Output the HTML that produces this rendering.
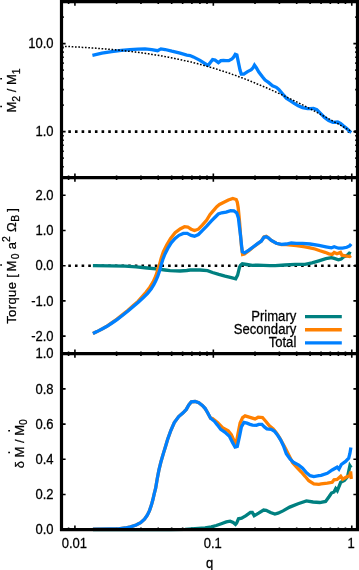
<!DOCTYPE html>
<html><head><meta charset="utf-8"><style>html,body{margin:0;padding:0;background:#fff;}svg{display:block;}</style></head><body>
<svg width="359" height="570" viewBox="0 0 359 570">
<rect width="100%" height="100%" fill="#fff"/>
<line x1="68.3" y1="131.66" x2="357.5" y2="131.66" stroke="#000" stroke-width="2.6" stroke-dasharray="2.6 4.052"/>
<line x1="68.3" y1="265.70" x2="357.5" y2="265.70" stroke="#000" stroke-width="2.6" stroke-dasharray="2.6 4.052"/>
<path d="M74.92 1.60L74.92 5.70M213.34 1.60L213.34 5.70M351.77 1.60L351.77 5.70M68.58 1.60L68.58 3.90M116.59 1.60L116.59 3.90M140.96 1.60L140.96 3.90M158.26 1.60L158.26 3.90M171.67 1.60L171.67 3.90M182.63 1.60L182.63 3.90M191.90 1.60L191.90 3.90M199.93 1.60L199.93 3.90M207.01 1.60L207.01 3.90M255.01 1.60L255.01 3.90M279.39 1.60L279.39 3.90M296.68 1.60L296.68 3.90M310.10 1.60L310.10 3.90M321.06 1.60L321.06 3.90M330.33 1.60L330.33 3.90M338.36 1.60L338.36 3.90M345.44 1.60L345.44 3.90M74.92 173.60L74.92 181.80M213.34 173.60L213.34 181.80M351.77 173.60L351.77 181.80M68.58 175.40L68.58 180.00M116.59 175.40L116.59 180.00M140.96 175.40L140.96 180.00M158.26 175.40L158.26 180.00M171.67 175.40L171.67 180.00M182.63 175.40L182.63 180.00M191.90 175.40L191.90 180.00M199.93 175.40L199.93 180.00M207.01 175.40L207.01 180.00M255.01 175.40L255.01 180.00M279.39 175.40L279.39 180.00M296.68 175.40L296.68 180.00M310.10 175.40L310.10 180.00M321.06 175.40L321.06 180.00M330.33 175.40L330.33 180.00M338.36 175.40L338.36 180.00M345.44 175.40L345.44 180.00M74.92 349.60L74.92 357.80M213.34 349.60L213.34 357.80M351.77 349.60L351.77 357.80M68.58 351.40L68.58 356.00M116.59 351.40L116.59 356.00M140.96 351.40L140.96 356.00M158.26 351.40L158.26 356.00M171.67 351.40L171.67 356.00M182.63 351.40L182.63 356.00M191.90 351.40L191.90 356.00M199.93 351.40L199.93 356.00M207.01 351.40L207.01 356.00M255.01 351.40L255.01 356.00M279.39 351.40L279.39 356.00M296.68 351.40L296.68 356.00M310.10 351.40L310.10 356.00M321.06 351.40L321.06 356.00M330.33 351.40L330.33 356.00M338.36 351.40L338.36 356.00M345.44 351.40L345.44 356.00M74.92 525.60L74.92 529.70M213.34 525.60L213.34 529.70M351.77 525.60L351.77 529.70M68.58 527.40L68.58 529.70M116.59 527.40L116.59 529.70M140.96 527.40L140.96 529.70M158.26 527.40L158.26 529.70M171.67 527.40L171.67 529.70M182.63 527.40L182.63 529.70M191.90 527.40L191.90 529.70M199.93 527.40L199.93 529.70M207.01 527.40L207.01 529.70M255.01 527.40L255.01 529.70M279.39 527.40L279.39 529.70M296.68 527.40L296.68 529.70M310.10 527.40L310.10 529.70M321.06 527.40L321.06 529.70M330.33 527.40L330.33 529.70M338.36 527.40L338.36 529.70M345.44 527.40L345.44 529.70M61.50 131.66L65.60 131.66M357.50 131.66L353.40 131.66M61.50 43.61L65.60 43.61M357.50 43.61L353.40 43.61M61.50 166.70L63.80 166.70M357.50 166.70L355.20 166.70M61.50 158.17L63.80 158.17M357.50 158.17L355.20 158.17M61.50 151.19L63.80 151.19M357.50 151.19L355.20 151.19M61.50 145.30L63.80 145.30M357.50 145.30L355.20 145.30M61.50 140.19L63.80 140.19M357.50 140.19L355.20 140.19M61.50 135.69L63.80 135.69M357.50 135.69L355.20 135.69M61.50 105.15L63.80 105.15M357.50 105.15L355.20 105.15M61.50 89.65L63.80 89.65M357.50 89.65L355.20 89.65M61.50 78.65L63.80 78.65M357.50 78.65L355.20 78.65M61.50 70.12L63.80 70.12M357.50 70.12L355.20 70.12M61.50 63.14L63.80 63.14M357.50 63.14L355.20 63.14M61.50 57.25L63.80 57.25M357.50 57.25L355.20 57.25M61.50 52.14L63.80 52.14M357.50 52.14L355.20 52.14M61.50 47.64L63.80 47.64M357.50 47.64L355.20 47.64M61.50 17.10L63.80 17.10M357.50 17.10L355.20 17.10M61.50 336.10L65.60 336.10M357.50 336.10L353.40 336.10M61.50 300.90L65.60 300.90M357.50 300.90L353.40 300.90M61.50 265.70L65.60 265.70M357.50 265.70L353.40 265.70M61.50 230.50L65.60 230.50M357.50 230.50L353.40 230.50M61.50 195.30L65.60 195.30M357.50 195.30L353.40 195.30M61.50 494.50L65.60 494.50M357.50 494.50L353.40 494.50M61.50 459.30L65.60 459.30M357.50 459.30L353.40 459.30M61.50 424.10L65.60 424.10M357.50 424.10L353.40 424.10M61.50 388.90L65.60 388.90M357.50 388.90L353.40 388.90" stroke="#000" stroke-width="1.6" fill="none"/>
<polyline points="92.4,55.4 101.9,53.2 111.7,51.6 121.4,50.4 129.8,49.7 138.0,49.1 145.0,48.9 151.7,49.7 157.6,50.7 160.9,48.9 165.1,49.5 171.8,51.2 180.1,53.1 186.8,55.1 190.0,55.5 193.3,56.9 200.0,60.4 206.7,64.7 208.4,65.1 212.6,59.6 215.1,60.1 218.4,62.6 220.9,60.6 223.4,60.4 225.9,60.7 228.8,60.7 231.9,59.0 233.8,56.9 235.3,54.4 236.9,55.0 238.2,61.3 240.0,70.1 241.3,74.1 243.8,74.1 247.6,71.6 251.3,69.7 253.2,67.6 254.5,65.1 256.3,67.6 258.8,72.0 262.6,77.0 265.1,80.1 268.5,82.4 272.5,85.7 276.3,87.3 278.8,89.4 282.5,93.8 286.3,98.2 290.1,100.7 293.8,103.2 298.2,105.7 302.6,107.6 307.6,108.6 310.0,108.6 313.4,108.4 316.8,109.7 320.3,113.2 324.5,117.4 328.7,120.6 332.9,122.3 337.7,122.0 340.5,123.4 343.3,125.8 346.8,128.6 349.6,131.3 351.3,132.5" fill="none" stroke="#0080ff" stroke-width="3.3" stroke-linejoin="miter" stroke-miterlimit="6" stroke-linecap="butt"/>
<polyline points="61.5,46.3 62.7,46.3 63.9,46.4 65.1,46.4 66.3,46.5 67.5,46.5 68.6,46.6 69.8,46.6 71.0,46.7 72.2,46.8 73.4,46.8 74.6,46.9 75.8,47.0 77.0,47.0 78.2,47.1 79.4,47.1 80.5,47.2 81.7,47.3 82.9,47.4 84.1,47.4 85.3,47.5 86.5,47.6 87.7,47.6 88.9,47.7 90.1,47.8 91.3,47.9 92.5,48.0 93.6,48.0 94.8,48.1 96.0,48.2 97.2,48.3 98.4,48.4 99.6,48.5 100.8,48.6 102.0,48.7 103.2,48.8 104.4,48.9 105.5,48.9 106.7,49.0 107.9,49.1 109.1,49.3 110.3,49.4 111.5,49.5 112.7,49.6 113.9,49.7 115.1,49.8 116.3,49.9 117.5,50.0 118.6,50.1 119.8,50.3 121.0,50.4 122.2,50.5 123.4,50.6 124.6,50.8 125.8,50.9 127.0,51.0 128.2,51.2 129.4,51.3 130.5,51.4 131.7,51.6 132.9,51.7 134.1,51.9 135.3,52.0 136.5,52.2 137.7,52.3 138.9,52.5 140.1,52.6 141.3,52.8 142.5,53.0 143.6,53.1 144.8,53.3 146.0,53.5 147.2,53.6 148.4,53.8 149.6,54.0 150.8,54.2 152.0,54.4 153.2,54.5 154.4,54.7 155.5,54.9 156.7,55.1 157.9,55.3 159.1,55.5 160.3,55.7 161.5,55.9 162.7,56.1 163.9,56.3 165.1,56.6 166.3,56.8 167.5,57.0 168.6,57.2 169.8,57.5 171.0,57.7 172.2,57.9 173.4,58.2 174.6,58.4 175.8,58.7 177.0,58.9 178.2,59.2 179.4,59.4 180.6,59.7 181.7,59.9 182.9,60.2 184.1,60.5 185.3,60.7 186.5,61.0 187.7,61.3 188.9,61.6 190.1,61.8 191.3,62.1 192.5,62.4 193.6,62.7 194.8,63.0 196.0,63.3 197.2,63.6 198.4,63.9 199.6,64.3 200.8,64.6 202.0,64.9 203.2,65.2 204.4,65.6 205.6,65.9 206.7,66.2 207.9,66.6 209.1,66.9 210.3,67.3 211.5,67.6 212.7,68.0 213.9,68.3 215.1,68.7 216.3,69.0 217.5,69.4 218.6,69.8 219.8,70.2 221.0,70.5 222.2,70.9 223.4,71.3 224.6,71.7 225.8,72.1 227.0,72.5 228.2,72.9 229.4,73.3 230.6,73.7 231.7,74.1 232.9,74.6 234.1,75.0 235.3,75.4 236.5,75.8 237.7,76.3 238.9,76.7 240.1,77.2 241.3,77.6 242.5,78.0 243.6,78.5 244.8,78.9 246.0,79.4 247.2,79.9 248.4,80.3 249.6,80.8 250.8,81.3 252.0,81.8 253.2,82.2 254.4,82.7 255.6,83.2 256.7,83.7 257.9,84.2 259.1,84.7 260.3,85.2 261.5,85.7 262.7,86.2 263.9,86.7 265.1,87.2 266.3,87.7 267.5,88.3 268.6,88.8 269.8,89.3 271.0,89.8 272.2,90.4 273.4,90.9 274.6,91.4 275.8,92.0 277.0,92.5 278.2,93.1 279.4,93.6 280.6,94.2 281.7,94.7 282.9,95.3 284.1,95.9 285.3,96.4 286.5,97.0 287.7,97.6 288.9,98.1 290.1,98.7 291.3,99.3 292.5,99.9 293.6,100.5 294.8,101.1 296.0,101.6 297.2,102.2 298.4,102.8 299.6,103.4 300.8,104.0 302.0,104.6 303.2,105.2 304.4,105.8 305.6,106.4 306.7,107.1 307.9,107.7 309.1,108.3 310.3,108.9 311.5,109.5 312.7,110.2 313.9,110.8 315.1,111.4 316.3,112.0 317.5,112.7 318.6,113.3 319.8,113.9 321.0,114.6 322.2,115.2 323.4,115.9 324.6,116.5 325.8,117.1 327.0,117.8 328.2,118.4 329.4,119.1 330.6,119.8 331.7,120.4 332.9,121.1 334.1,121.7 335.3,122.4 336.5,123.0 337.7,123.7 338.9,124.4 340.1,125.0 341.3,125.7 342.5,126.4 343.6,127.0 344.8,127.7 346.0,128.4 347.2,129.1 348.4,129.7 349.6,130.4 350.8,131.1 351.8,131.7" fill="none" stroke="#000" stroke-width="1.5" stroke-dasharray="1.65 1.68" stroke-dashoffset="-0.2"/>
<polyline points="92.9,265.7 110.0,265.9 125.0,266.1 136.1,266.9 147.3,268.0 158.4,269.1 165.0,270.0 170.1,270.6 180.1,271.0 186.8,270.5 190.1,270.0 200.0,270.0 207.5,270.7 212.5,272.5 218.8,274.4 225.1,276.1 231.3,277.6 235.7,278.8 237.6,275.1 239.5,267.3 240.5,265.2 242.3,263.8 246.7,264.5 252.3,265.3 257.9,265.2 263.4,265.4 270.0,265.6 275.1,265.6 285.1,265.0 295.1,264.4 305.0,264.3 312.0,262.9 318.9,260.8 325.9,258.7 331.5,257.6 334.2,258.4 338.4,259.8 341.2,259.0 344.0,256.6 346.8,255.6 349.3,253.1 350.9,253.8" fill="none" stroke="#008080" stroke-width="3.3" stroke-linejoin="miter" stroke-miterlimit="6" stroke-linecap="butt"/>
<polyline points="92.9,333.6 97.0,331.6 102.0,329.0 107.0,326.2 112.0,322.6 117.0,319.1 122.0,315.1 128.0,310.2 133.0,305.8 138.0,301.4 142.0,296.9 146.2,292.1 149.7,287.4 153.1,282.0 155.6,276.4 157.0,272.2 157.9,268.7 159.5,264.6 161.1,258.4 163.4,251.7 166.7,245.1 170.6,238.4 175.1,232.8 180.1,228.9 184.5,226.7 187.8,227.0 191.1,229.2 194.5,230.6 198.4,229.2 202.3,225.1 206.7,220.1 210.1,214.5 213.4,210.6 216.8,206.7 219.5,204.5 223.9,202.3 228.4,200.0 232.8,198.4 236.2,199.5 237.3,202.3 238.2,207.8 239.0,215.6 239.7,223.4 240.6,236.5 241.5,246.5 242.6,254.5 244.5,254.0 248.9,250.6 253.4,247.0 257.9,243.6 261.2,241.2 264.0,236.8 266.2,236.2 268.0,237.6 271.3,240.5 276.3,243.3 281.3,244.6 286.3,244.6 291.3,245.2 296.3,245.7 300.0,246.2 305.0,246.9 310.0,247.8 315.0,249.0 320.0,250.8 325.0,252.3 329.0,253.8 332.2,254.5 334.2,252.4 337.0,253.8 340.5,252.4 341.9,255.2 345.4,255.9 349.6,256.6 351.0,255.6" fill="none" stroke="#ff8000" stroke-width="3.3" stroke-linejoin="miter" stroke-miterlimit="6" stroke-linecap="butt"/>
<polyline points="92.9,333.6 97.0,331.6 102.0,329.0 107.0,326.3 112.0,323.0 117.0,319.6 122.0,315.8 128.0,311.0 133.0,306.8 138.0,302.5 143.4,297.5 147.6,293.4 151.1,289.0 153.8,284.7 155.9,280.5 157.7,276.4 159.1,272.2 160.2,268.7 161.1,265.1 162.8,259.5 165.0,254.0 167.8,248.4 171.2,242.8 175.1,238.4 179.0,235.3 183.3,233.4 187.2,233.4 191.1,235.4 194.5,236.2 198.4,234.5 202.3,230.6 206.7,226.2 211.2,221.2 215.3,217.0 218.3,214.0 221.7,212.8 226.1,212.1 230.6,210.6 233.9,210.9 236.7,212.8 238.4,217.9 239.3,225.7 240.6,236.1 241.5,245.1 242.3,251.7 244.5,252.9 248.9,250.1 253.4,246.7 257.9,243.4 261.2,241.2 264.0,237.3 266.2,236.7 268.0,237.6 271.3,240.5 276.3,243.3 281.3,244.3 286.3,244.0 291.3,243.0 296.3,243.3 302.6,243.4 310.0,244.0 318.9,245.4 325.9,246.8 331.5,247.8 334.2,246.8 338.4,248.2 342.6,248.2 346.8,247.3 349.6,245.9 351.2,244.0" fill="none" stroke="#0080ff" stroke-width="3.3" stroke-linejoin="miter" stroke-miterlimit="6" stroke-linecap="butt"/>
<polyline points="92.9,529.7 170.0,529.7 185.0,529.4 195.0,528.6 205.0,527.8 211.3,526.9 216.3,525.5 221.3,523.7 226.3,521.9 230.1,521.2 233.2,522.5 235.5,524.4 236.6,523.2 238.5,518.8 241.6,518.2 246.0,515.7 250.4,512.5 252.3,512.5 254.2,515.7 258.6,513.2 263.6,510.0 266.1,510.3 270.5,512.5 274.9,514.0 278.0,513.2 283.0,510.9 289.7,507.1 298.1,503.7 306.4,500.9 313.1,502.0 319.8,502.5 325.6,501.4 329.0,496.7 331.5,493.0 334.0,492.0 335.7,488.7 337.3,490.8 340.7,482.3 344.4,480.4 347.5,476.8 348.7,471.3 349.9,465.7 351.2,467.6" fill="none" stroke="#008080" stroke-width="3.3" stroke-linejoin="miter" stroke-miterlimit="6" stroke-linecap="butt"/>
<polyline points="92.9,529.1 110.0,529.0 118.4,528.8 125.0,528.0 130.6,526.8 136.1,525.0 140.6,522.7 144.5,519.2 147.3,515.1 149.5,510.6 151.4,505.1 152.9,499.5 154.2,493.9 155.6,488.5 157.2,479.0 158.9,470.1 161.1,461.2 163.4,453.4 165.6,446.2 167.6,439.5 170.8,430.5 174.3,422.6 178.7,416.6 183.1,412.8 186.3,409.4 188.8,405.0 191.3,401.9 195.1,401.5 198.8,402.8 202.6,405.7 205.2,408.6 207.5,412.5 210.6,418.2 212.5,418.5 217.5,422.5 222.5,427.6 228.2,430.7 231.3,434.5 233.8,440.1 236.1,443.9 238.2,432.6 240.1,423.0 242.6,417.6 245.1,415.8 250.0,417.3 255.0,418.9 258.2,417.2 262.5,417.5 265.7,421.3 269.4,425.7 273.2,428.8 276.3,432.6 279.5,437.6 282.5,443.0 285.5,448.5 287.5,452.5 292.5,462.6 297.5,468.2 301.3,472.0 305.1,476.3 308.8,480.7 313.8,483.9 318.9,484.3 321.1,483.9 327.3,483.1 332.2,482.3 334.0,479.8 337.1,479.5 340.7,476.2 342.6,479.2 346.9,476.8 349.9,475.5 350.6,471.5 351.3,479.0" fill="none" stroke="#ff8000" stroke-width="3.3" stroke-linejoin="miter" stroke-miterlimit="6" stroke-linecap="butt"/>
<polyline points="92.9,529.1 110.0,529.0 118.4,528.8 125.0,528.0 130.6,526.8 136.1,525.0 140.6,522.7 144.5,519.2 147.3,515.1 149.5,510.6 151.4,505.1 152.9,499.5 154.2,493.9 155.6,488.5 157.2,479.0 158.9,470.1 161.1,461.2 163.4,453.4 165.6,446.2 167.6,439.5 170.8,430.5 174.3,422.6 178.7,416.6 183.1,412.8 186.3,409.4 188.8,405.0 191.3,401.9 195.1,401.5 198.8,402.8 202.6,405.7 205.2,408.6 207.5,412.5 210.6,418.2 214.4,421.3 217.5,425.1 220.7,429.4 225.1,432.3 229.4,436.3 232.6,442.6 235.1,447.0 237.3,446.4 239.5,436.3 241.4,426.9 243.9,422.5 247.0,423.2 250.0,424.4 252.5,425.1 256.3,425.3 258.8,424.4 261.9,424.4 264.4,426.9 266.9,428.8 271.3,429.4 274.5,431.3 277.6,435.1 280.7,440.1 283.5,446.0 286.3,453.8 290.0,458.8 293.8,462.6 298.8,465.1 302.6,468.2 306.3,472.6 310.1,475.7 313.8,476.6 318.9,475.7 321.1,475.3 327.3,473.3 332.2,470.0 337.1,467.2 338.9,469.2 341.3,464.5 345.6,461.4 348.7,458.1 349.9,453.5 350.9,447.5" fill="none" stroke="#0080ff" stroke-width="3.3" stroke-linejoin="miter" stroke-miterlimit="6" stroke-linecap="butt"/>
<line x1="305" y1="316.60" x2="341.8" y2="316.60" stroke="#008080" stroke-width="3.3"/>
<line x1="305" y1="329.75" x2="341.8" y2="329.75" stroke="#ff8000" stroke-width="3.3"/>
<line x1="305" y1="342.90" x2="341.8" y2="342.90" stroke="#0080ff" stroke-width="3.3"/>
<path d="M61.5 1.6H357.5V529.7H61.5Z M61.5 177.7H357.5 M61.5 353.7H357.5" stroke="#000" stroke-width="3.2" fill="none" stroke-linecap="square"/>
<g font-family="Liberation Sans, sans-serif" font-size="13" fill="#000" stroke="#000" stroke-width="0.25">
<text transform="translate(53.6,48.31) scale(1,1.07)" text-anchor="end">10.0</text>
<text transform="translate(53.6,136.36) scale(1,1.07)" text-anchor="end">1.0</text>
<text transform="translate(53.6,200.00) scale(1,1.07)" text-anchor="end">2.0</text>
<text transform="translate(53.6,235.20) scale(1,1.07)" text-anchor="end">1.0</text>
<text transform="translate(53.6,270.40) scale(1,1.07)" text-anchor="end">0.0</text>
<text transform="translate(53.6,305.60) scale(1,1.07)" text-anchor="end">-1.0</text>
<text transform="translate(53.6,340.80) scale(1,1.07)" text-anchor="end">-2.0</text>
<text transform="translate(53.6,358.40) scale(1,1.07)" text-anchor="end">1.0</text>
<text transform="translate(53.6,393.60) scale(1,1.07)" text-anchor="end">0.8</text>
<text transform="translate(53.6,428.80) scale(1,1.07)" text-anchor="end">0.6</text>
<text transform="translate(53.6,464.00) scale(1,1.07)" text-anchor="end">0.4</text>
<text transform="translate(53.6,499.20) scale(1,1.07)" text-anchor="end">0.2</text>
<text transform="translate(53.6,534.40) scale(1,1.07)" text-anchor="end">0.0</text>
<text transform="translate(74.32,548.1) scale(1,1.07)" text-anchor="middle">0.01</text>
<text transform="translate(212.74,548.1) scale(1,1.07)" text-anchor="middle">0.1</text>
<text transform="translate(351.17,548.1) scale(1,1.07)" text-anchor="middle">1</text>
<text transform="translate(209.5,567.6) scale(1,1.07)" text-anchor="middle">q</text>
<text transform="translate(296.3,321.10) scale(1,1.07)" text-anchor="end" font-size="13.1">Primary</text>
<text transform="translate(296.3,334.10) scale(1,1.07)" text-anchor="end" font-size="13.1">Secondary</text>
<text transform="translate(296.3,347.10) scale(1,1.07)" text-anchor="end" font-size="13.1">Total</text>
</g>
<text transform="translate(16.3,90.5) rotate(-90)" text-anchor="middle" font-family="Liberation Sans, sans-serif" font-size="13" stroke="#000" stroke-width="0.25">M<tspan font-size="10.4" dy="3.7">2</tspan><tspan dy="-3.7"> / M</tspan><tspan font-size="10.4" dy="3.7">1</tspan></text>
<text transform="translate(15.5,0) rotate(-90)" font-family="Liberation Sans, sans-serif" font-size="13" stroke="#000" stroke-width="0.25"><tspan x="-323.80" y="0" font-size="13" letter-spacing="0.4">Torque [</tspan><tspan x="-271.40" y="0" font-size="13">M</tspan><tspan x="-259.20" y="3.7" font-size="10.4">0</tspan><tspan x="-249.30" y="0" font-size="13">a</tspan><tspan x="-241.90" y="-6" font-size="10.4">2</tspan><tspan x="-232.10" y="0" font-size="13">Ω</tspan><tspan x="-221.80" y="3.7" font-size="10.4">B</tspan><tspan x="-211.80" y="0" font-size="13">]</tspan></text>
<text transform="translate(23.7,443.8) rotate(-90)" text-anchor="middle" font-family="Liberation Sans, sans-serif" font-size="13" stroke="#000" stroke-width="0.25">δ M / M<tspan font-size="10.4" dy="3.7">0</tspan></text>
<text transform="translate(1.90,106.60) rotate(-90)" text-anchor="middle" font-family="Liberation Sans, sans-serif" font-size="16">.</text>
<text transform="translate(1.90,78.70) rotate(-90)" text-anchor="middle" font-family="Liberation Sans, sans-serif" font-size="16">.</text>
<text transform="translate(1.90,265.10) rotate(-90)" text-anchor="middle" font-family="Liberation Sans, sans-serif" font-size="16">.</text>
<text transform="translate(9.90,452.60) rotate(-90)" text-anchor="middle" font-family="Liberation Sans, sans-serif" font-size="16">.</text>
<text transform="translate(9.90,430.70) rotate(-90)" text-anchor="middle" font-family="Liberation Sans, sans-serif" font-size="16">.</text>
</svg>
</body></html>
